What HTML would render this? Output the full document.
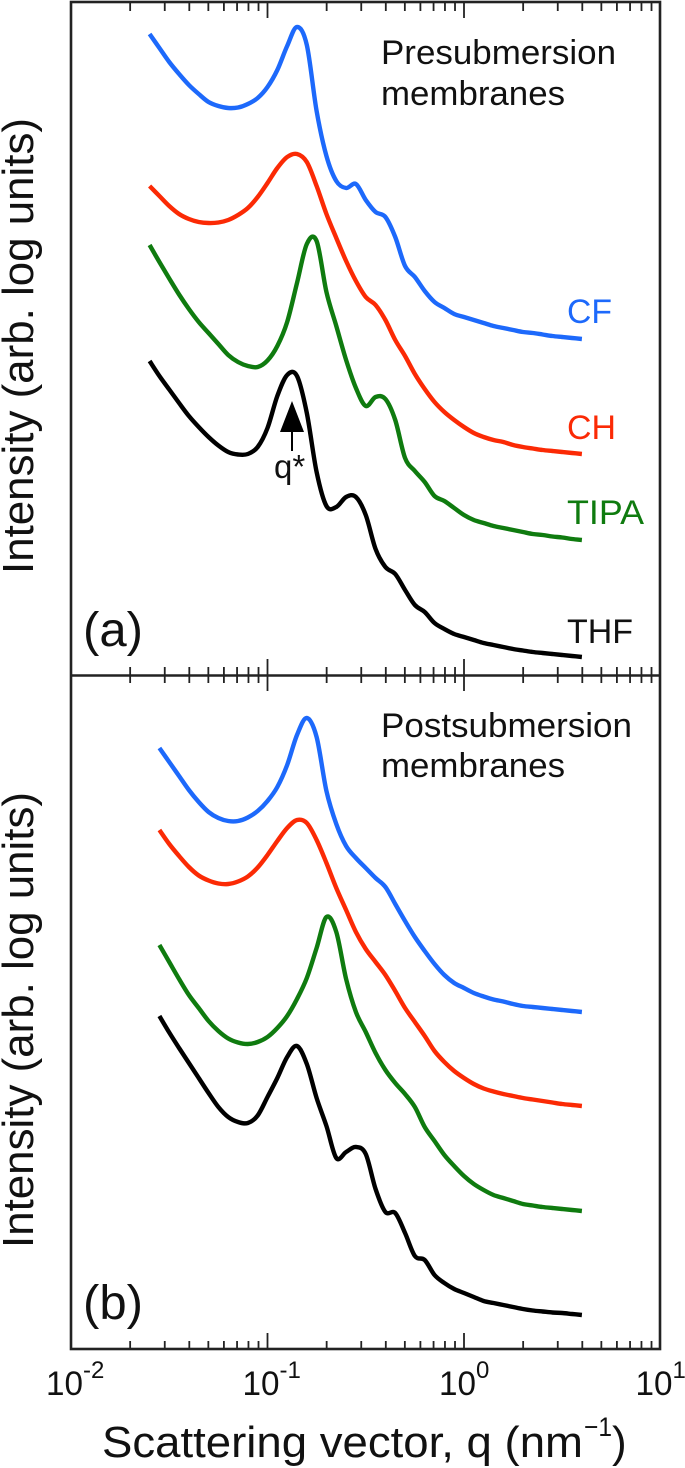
<!DOCTYPE html>
<html lang="en">
<head>
<meta charset="utf-8">
<title>Scattering profiles of membranes</title>
<style>
html,body{margin:0;padding:0;background:#fff;}
svg{display:block;}
text{font-family:"Liberation Sans",Arial,sans-serif;fill:#111;}
</style>
</head>
<body>
<svg id="chart" width="685" height="1468" viewBox="0 0 685 1468" xmlns="http://www.w3.org/2000/svg">
  <g id="curves" fill="none" stroke-linejoin="round" stroke-linecap="butt"></g>
  <g id="ticks" stroke="#222" stroke-width="1.8"></g>
  <rect x="71" y="2" width="589" height="1347" fill="none" stroke="#222" stroke-width="2.6"/>
  <line x1="71" y1="675.5" x2="660" y2="675.5" stroke="#222" stroke-width="2.6"/>

  <text x="381" y="64" font-size="34" textLength="235" lengthAdjust="spacingAndGlyphs">Presubmersion</text>
  <text x="381" y="105" font-size="34" textLength="184" lengthAdjust="spacingAndGlyphs">membranes</text>
  <text x="381" y="737" font-size="34" textLength="251" lengthAdjust="spacingAndGlyphs">Postsubmersion</text>
  <text x="381" y="777" font-size="34" textLength="184" lengthAdjust="spacingAndGlyphs">membranes</text>

  <text x="567" y="323" font-size="34" textLength="45" lengthAdjust="spacingAndGlyphs" style="fill:#1d69fb">CF</text>
  <text x="567" y="439" font-size="34" textLength="49" lengthAdjust="spacingAndGlyphs" style="fill:#fb2a05">CH</text>
  <text x="567" y="524" font-size="34" textLength="77" lengthAdjust="spacingAndGlyphs" style="fill:#0f7b0f">TIPA</text>
  <text x="567" y="643" font-size="34" textLength="66" lengthAdjust="spacingAndGlyphs">THF</text>

  <text x="83" y="646" font-size="48" textLength="60" lengthAdjust="spacingAndGlyphs">(a)</text>
  <text x="83" y="1319" font-size="48" textLength="60" lengthAdjust="spacingAndGlyphs">(b)</text>

  <polygon points="292,401 280,432 304,432" fill="#000"/>
  <line x1="292" y1="430" x2="292" y2="451" stroke="#000" stroke-width="2"/>
  <text x="274" y="478" font-size="33">q*</text>

  <text transform="translate(33,574) rotate(-90)" font-size="44" textLength="456" lengthAdjust="spacingAndGlyphs">Intensity (arb. log units)</text>
  <text transform="translate(33,1248) rotate(-90)" font-size="44" textLength="456" lengthAdjust="spacingAndGlyphs">Intensity (arb. log units)</text>

  <g id="tick-labels"></g>

  <text x="102" y="1457" font-size="44" textLength="481" lengthAdjust="spacingAndGlyphs">Scattering vector, q (nm</text>
  <text x="584" y="1436" font-size="27" textLength="28" lengthAdjust="spacingAndGlyphs">−1</text>
  <text x="612" y="1457" font-size="44">)</text>
</svg>

<script>
// Scattering vector grid (nm^-1)
const qGrid = [0.02512,0.02818,0.03162,0.03548,0.03981,0.04467,0.05012,0.05623,0.0631,0.07079,0.07943,0.08913,0.1,0.1122,0.1259,0.1413,0.1585,0.1778,0.1995,0.2239,0.2512,0.2818,0.3162,0.3548,0.3981,0.4467,0.5012,0.5623,0.631,0.7079,0.7943,0.8913,1,1.122,1.259,1.413,1.585,1.778,1.995,2.239,2.512,2.818,3.162,3.548,3.981];
const qGridB = qGrid.slice(1);

// Panel (a) log intensity (arb. log units)
const cfPre = [6.42,6.28,6.14,6.02,5.91,5.82,5.74,5.70,5.68,5.685,5.72,5.78,5.89,6.06,6.30,6.49,6.31,5.65,5.20,4.95,4.88,4.92,4.76,4.64,4.59,4.39,4.10,3.99,3.85,3.74,3.68,3.62,3.59,3.56,3.53,3.50,3.48,3.46,3.44,3.43,3.415,3.40,3.39,3.38,3.37];
const chPre = [4.90,4.80,4.70,4.62,4.57,4.54,4.53,4.535,4.56,4.61,4.68,4.79,4.93,5.08,5.19,5.22,5.14,4.90,4.62,4.38,4.15,3.95,3.79,3.71,3.56,3.36,3.20,3.02,2.87,2.74,2.64,2.56,2.49,2.43,2.39,2.36,2.34,2.31,2.29,2.275,2.26,2.25,2.24,2.23,2.22];
const tipaPre = [4.31,4.14,3.975,3.815,3.67,3.54,3.43,3.32,3.21,3.14,3.10,3.09,3.155,3.30,3.54,3.93,4.32,4.35,3.84,3.50,3.16,2.88,2.70,2.79,2.77,2.56,2.18,2.05,1.94,1.80,1.75,1.68,1.61,1.56,1.53,1.50,1.48,1.46,1.44,1.42,1.41,1.395,1.385,1.37,1.36];
const thfPre = [3.15,3.00,2.865,2.73,2.60,2.49,2.39,2.305,2.24,2.215,2.22,2.29,2.48,2.80,3.01,3.00,2.63,2.04,1.70,1.69,1.79,1.79,1.61,1.27,1.09,1.02,0.86,0.71,0.64,0.53,0.47,0.42,0.39,0.36,0.33,0.31,0.29,0.27,0.255,0.24,0.23,0.22,0.21,0.20,0.19];

// Panel (b) log intensity (arb. log units)
const cfPost = [6.01,5.87,5.73,5.59,5.47,5.37,5.31,5.28,5.28,5.315,5.38,5.48,5.62,5.84,6.14,6.31,6.12,5.58,5.25,5.03,4.91,4.81,4.71,4.62,4.45,4.28,4.12,3.98,3.85,3.74,3.66,3.61,3.56,3.525,3.495,3.475,3.45,3.43,3.42,3.41,3.40,3.39,3.38,3.37];
const chPost = [5.19,5.05,4.93,4.82,4.735,4.685,4.655,4.65,4.675,4.725,4.815,4.94,5.08,5.21,5.29,5.26,5.09,4.86,4.61,4.39,4.17,4.00,3.87,3.74,3.58,3.41,3.27,3.13,2.98,2.87,2.78,2.71,2.65,2.605,2.575,2.55,2.53,2.51,2.495,2.48,2.465,2.45,2.44,2.43];
const tipaPost = [4.04,3.87,3.70,3.54,3.41,3.28,3.18,3.105,3.065,3.05,3.07,3.12,3.21,3.33,3.50,3.71,4.01,4.32,4.17,3.70,3.37,3.17,2.96,2.79,2.66,2.55,2.42,2.22,2.08,1.94,1.83,1.73,1.65,1.59,1.54,1.51,1.48,1.45,1.435,1.42,1.41,1.40,1.39,1.38];
const thfPost = [3.33,3.165,3.01,2.86,2.71,2.56,2.42,2.32,2.27,2.26,2.335,2.52,2.71,2.92,3.03,2.85,2.51,2.23,1.91,1.97,2.02,1.95,1.60,1.37,1.36,1.16,0.93,0.89,0.74,0.66,0.60,0.56,0.52,0.48,0.46,0.44,0.42,0.40,0.385,0.375,0.365,0.36,0.35,0.34];

// Axis ticks
const tickDecades = [-2,-1,0,1];
const tickMantissas = [2,3,4,5,6,7,8,9];
const tickLabels = ['10','10','10','10'];
const tickExponents = ['-2','-1','0','1'];

const NS = 'http://www.w3.org/2000/svg';
function xScale(q){ return 71 + 196.5 * (Math.log10(q) + 2); }
function yScaleA(v){ return 676 - v * 100; }
function yScaleB(v){ return 1349 - v * 100; }

function smoothPath(pts){
  let d = 'M' + pts[0][0].toFixed(2) + ' ' + pts[0][1].toFixed(2);
  for (let i = 0; i < pts.length - 1; i++){
    const p0 = pts[Math.max(i - 1, 0)], p1 = pts[i], p2 = pts[i + 1], p3 = pts[Math.min(i + 2, pts.length - 1)];
    const c1x = p1[0] + (p2[0] - p0[0]) / 6, c1y = p1[1] + (p2[1] - p0[1]) / 6;
    const c2x = p2[0] - (p3[0] - p1[0]) / 6, c2y = p2[1] - (p3[1] - p1[1]) / 6;
    d += 'C' + c1x.toFixed(2) + ' ' + c1y.toFixed(2) + ' ' + c2x.toFixed(2) + ' ' + c2y.toFixed(2) + ' ' + p2[0].toFixed(2) + ' ' + p2[1].toFixed(2);
  }
  return d;
}

const curvesGroup = document.getElementById('curves');
function drawCurve(qs, values, yFn, color, width, name){
  const pts = values.map(function(v, i){ return [xScale(qs[i]), yFn(v)]; });
  const path = document.createElementNS(NS, 'path');
  path.setAttribute('d', smoothPath(pts));
  path.setAttribute('stroke', color);
  path.setAttribute('stroke-width', width);
  
  
  curvesGroup.appendChild(path);
}
drawCurve(qGrid, cfPre, yScaleA, '#1d69fb', 4.4, 'curve-cf-presubmersion');
drawCurve(qGrid, chPre, yScaleA, '#fb2a05', 4.4, 'curve-ch-presubmersion');
drawCurve(qGrid, tipaPre, yScaleA, '#0f7b0f', 4.4, 'curve-tipa-presubmersion');
drawCurve(qGrid, thfPre, yScaleA, '#000000', 4.4, 'curve-thf-presubmersion');
drawCurve(qGridB, cfPost, yScaleB, '#1d69fb', 4.4, 'curve-cf-postsubmersion');
drawCurve(qGridB, chPost, yScaleB, '#fb2a05', 4.4, 'curve-ch-postsubmersion');
drawCurve(qGridB, tipaPost, yScaleB, '#0f7b0f', 4.4, 'curve-tipa-postsubmersion');
drawCurve(qGridB, thfPost, yScaleB, '#000000', 4.4, 'curve-thf-postsubmersion');

const ticksGroup = document.getElementById('ticks');
function addTick(x, y1, y2, name){
  const t = document.createElementNS(NS, 'line');
  t.setAttribute('x1', x);
  t.setAttribute('x2', x);
  t.setAttribute('y1', y1);
  t.setAttribute('y2', y2);
  
  
  ticksGroup.appendChild(t);
}
function addTicksAt(q, major){
  const x = xScale(q);
  if (x <= 71.5 || x >= 659.5) return;
  const kind = major ? 'major-tick' : 'minor-tick';
  addTick(x, 2, major ? 18 : 11, 'top-' + kind);
  addTick(x, major ? 659 : 667, major ? 691 : 683, 'middle-' + kind);
  addTick(x, major ? 1333 : 1341, 1349, 'bottom-' + kind);
}
tickDecades.forEach(function(dec){
  addTicksAt(Math.pow(10, dec), true);
  if (dec < 1) tickMantissas.forEach(function(m){ addTicksAt(m * Math.pow(10, dec), false); });
});

const labelsGroup = document.getElementById('tick-labels');
tickDecades.forEach(function(dec, i){
  const q = Math.pow(10, dec);
  const x = xScale(q);
  const base = document.createElementNS(NS, 'text');
  base.setAttribute('x', x - 25);
  base.setAttribute('y', 1395);
  base.setAttribute('font-size', '34');
  base.setAttribute('textLength', '37');
  base.setAttribute('lengthAdjust', 'spacingAndGlyphs');
  
  
  base.textContent = tickLabels[i];
  labelsGroup.appendChild(base);
  const exp = document.createElementNS(NS, 'text');
  exp.setAttribute('x', x + 12);
  exp.setAttribute('y', 1378);
  exp.setAttribute('font-size', '24');
  
  
  exp.textContent = tickExponents[i];
  labelsGroup.appendChild(exp);
});
</script>
</body>
</html>
